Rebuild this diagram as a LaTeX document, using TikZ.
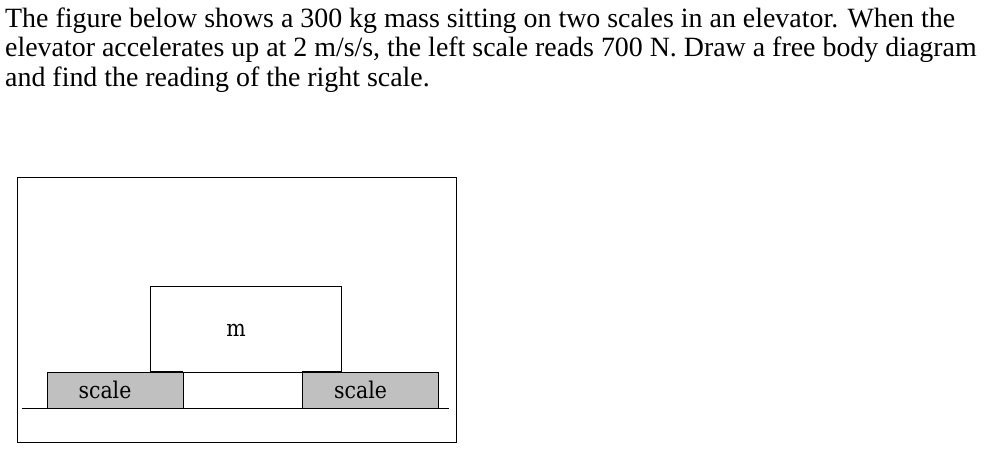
\documentclass[tikz,border=0pt]{standalone}
\usepackage{fontspec}
\setmainfont{Liberation Serif}
\newfontfamily\labelfont[FakeStretch=0.89]{DejaVu Serif}
\definecolor{scalegray}{RGB}{192,192,192}

\begin{document}
\begin{tikzpicture}[x=1pt,y=-1pt]
	\useasboundingbox (0,0) rectangle (990,448);
	\begin{scope}[every node/.style={anchor=base west,inner sep=0pt,font=\fontsize{27.9}{30}\selectfont}]
		\node (line1) at (5,27) {The figure below shows a 300 kg mass sitting on two scales in an elevator. When the};
		\node (line2) at (5,56) {elevator accelerates up at 2 m/s/s, the left scale reads 700 N. Draw a free body diagram};
		\node (line3) at (5,86) {and find the reading of the right scale.};
	\end{scope}
	
	\begin{scope}[every node/.style={draw,inner sep=0pt,outer sep=0pt,line width=1pt}]
		\node [minimum width=439pt,minimum height=265pt] (car) at (236.5,309.5) {};
		\node [minimum width=191pt,minimum height=86pt] (mass) at (245.5,329) {};
		\node [fill=scalegray,minimum width=136pt,minimum height=36pt] (lscale) at (115,390) {};
		\node [fill=scalegray,minimum width=136pt,minimum height=36pt] (rscale) at (370,390) {};
	\end{scope}
	
	\begin{scope}[every node/.style={anchor=base,inner sep=0pt,font=\labelfont\fontsize{23}{23}\selectfont}]
		\node (masstext) at (236,336) {m};
		\node (lscaletext) at (105,398.3) {scale};
		\node (rscaletext) at (360.5,398.3) {scale};
	\end{scope}
	
	\coordinate (floorL) at (22,408);
	\coordinate (floorR) at (449,408);
	\draw [line width=1pt] (floorL) -- (floorR);
	\draw [line width=2.5pt] (mass.south west) -- (lscale.north east);
	\draw [line width=2.5pt] (rscale.north west) -- (mass.south east);
\end{tikzpicture}
\end{document}
